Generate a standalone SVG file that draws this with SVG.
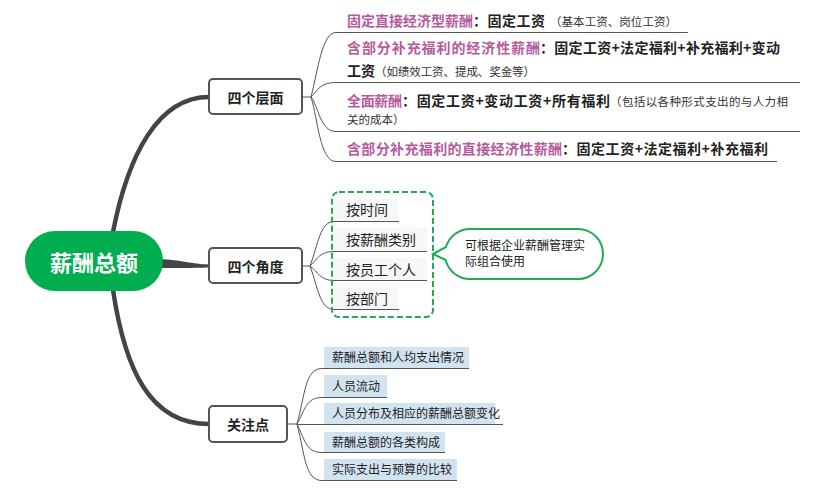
<svg xmlns="http://www.w3.org/2000/svg" width="825" height="496" viewBox="0 0 825 496">
<style>
text{font-family:"Noto Sans CJK SC","Noto Sans",sans-serif;}
.node{fill:#fff;stroke:#555;stroke-width:2;}
.nt{font-size:14px;font-weight:bold;fill:#222;text-anchor:middle;dominant-baseline:central;}
.thick{fill:none;stroke:#444;stroke-width:4.5;stroke-linecap:round;}
.thin{fill:none;stroke:#555;stroke-width:1;}
.pk{font-size:14px;font-weight:bold;fill:#b65aa0;}
.bk{font-size:14px;font-weight:bold;fill:#222;}
.sm{font-size:11.5px;fill:#333;}
.it{font-size:14px;fill:#222;}
.fi{font-size:12px;fill:#222;}
.fbg{fill:#d2e3f0;}
.abg{fill:#f6f8f8;}
</style>
<g id="connectors">
<path class="thick" d="M113,232 C128,155 158,97 209,97"/>
<path class="thick" d="M113,290 C125,370 150,424 209,424"/>
<path d="M158,259 C182,260 192,264 209,264.5 L209,267.5 C192,268 182,268 158,268 Z" fill="#444"/>
<path class="thin" d="M302,97 H311"/>
<path class="thin" d="M311,97 C318,70 322,32.5 336,32.5 H688"/>
<path class="thin" d="M311,97 C318,90 320,82.5 336,82.5 H800"/>
<path class="thin" d="M311,97 C318,105 320,131.5 336,131.5 H800"/>
<path class="thin" d="M311,97 C318,120 320,161.5 336,161.5 H777"/>
<path class="thin" d="M302,266 H310"/>
<path class="thin" d="M310,266 C318,245 320,221.5 334,221.5 H399"/>
<path class="thin" d="M310,266 C318,258 320,251.5 334,251.5 H427"/>
<path class="thin" d="M310,266 C318,272 320,280.5 334,280.5 H427"/>
<path class="thin" d="M310,266 C318,288 320,309.5 334,309.5 H399"/>
<path class="thin" d="M287,424 H297"/>
<path class="thin" d="M297,424 C305,395 305,368.5 322,368.5 H469"/>
<path class="thin" d="M297,424 C305,410 306,397.5 322,397.5 H387"/>
<path class="thin" d="M297,424.5 H503"/>
<path class="thin" d="M297,424 C305,440 306,452.5 322,452.5 H445"/>
<path class="thin" d="M297,424 C305,455 305,480.5 322,480.5 H457"/>
</g>
<g id="root">
<rect x="25" y="231" width="138" height="60" rx="30" fill="#00ad4f"/>
<text x="94" y="261" font-size="22" font-weight="bold" fill="#fff" text-anchor="middle" dominant-baseline="central">薪酬总额</text>
</g>
<g id="n-layers">
<rect class="node" x="209" y="79" width="93" height="35" rx="4"/>
<text class="nt" x="255.5" y="97">四个层面</text>
</g>
<g id="n-angles">
<rect class="node" x="209" y="248" width="93" height="35" rx="4"/>
<text class="nt" x="255.5" y="266">四个角度</text>
</g>
<g id="n-focus">
<rect class="node" x="209" y="406" width="78" height="36" rx="4"/>
<text class="nt" x="248" y="424">关注点</text>
</g>
<g id="l1">
<text class="pk" x="347" y="26" textLength="126" lengthAdjust="spacing">固定直接经济型薪酬</text>
<text class="bk" x="473" y="26" textLength="72" lengthAdjust="spacing">：固定工资</text>
<text class="sm" x="550" y="26" textLength="127" lengthAdjust="spacing">（基本工资、岗位工资）</text>
</g>
<g id="l2">
<text class="pk" x="347" y="53" textLength="193" lengthAdjust="spacing">含部分补充福利的经济性薪酬</text>
<text class="bk" x="540" y="53" textLength="240" lengthAdjust="spacing">：固定工资+法定福利+补充福利+变动</text>
<text class="bk" x="347" y="76">工资</text>
<text class="sm" x="375" y="76" textLength="160" lengthAdjust="spacing">（如绩效工资、提成、奖金等）</text>
</g>
<g id="l3">
<text class="pk" x="347" y="106" textLength="55" lengthAdjust="spacing">全面薪酬</text>
<text class="bk" x="402" y="106" textLength="208" lengthAdjust="spacing">：固定工资+变动工资+所有福利</text>
<text class="sm" x="610" y="106" textLength="178" lengthAdjust="spacing">（包括以各种形式支出的与人力相</text>
<text class="sm" x="347" y="124">关的成本）</text>
</g>
<g id="l4">
<text class="pk" x="347" y="154" textLength="215" lengthAdjust="spacing">含部分补充福利的直接经济性薪酬</text>
<text class="bk" x="562" y="154" textLength="206" lengthAdjust="spacing">：固定工资+法定福利+补充福利</text>
</g>
<g id="angles-box">
<rect x="332" y="192" width="101" height="125" rx="7" fill="none" stroke="#22aa55" stroke-width="2" stroke-dasharray="6,3"/>
</g>
<g id="a1">
<rect class="abg" x="334" y="199" width="65" height="22"/>
<text class="it" x="346" y="215">按时间</text>
</g>
<g id="a2">
<rect class="abg" x="334" y="228" width="93" height="23"/>
<text class="it" x="346" y="245">按薪酬类别</text>
</g>
<g id="a3">
<rect class="abg" x="334" y="258" width="93" height="22"/>
<text class="it" x="346" y="275">按员工个人</text>
</g>
<g id="a4">
<rect class="abg" x="334" y="287" width="65" height="22"/>
<text class="it" x="346" y="304">按部门</text>
</g>
<g id="note">
<path d="M470,229 H578 A25,25 0 0 1 578,279 H470 A25,25 0 0 1 445.7,260 L433,254 L446,247 A25,25 0 0 1 470,229 Z" fill="#fff" stroke="#22aa55" stroke-width="2"/>
<text class="fi" x="465" y="250">可根据企业薪酬管理实</text>
<text class="fi" x="465" y="266">际组合使用</text>
</g>
<g id="f1">
<rect class="fbg" x="324" y="347" width="145" height="21"/>
<text class="fi" x="332" y="362">薪酬总额和人均支出情况</text>
</g>
<g id="f2">
<rect class="fbg" x="324" y="375" width="63" height="22"/>
<text class="fi" x="332" y="391">人员流动</text>
</g>
<g id="f3">
<rect class="fbg" x="324" y="403" width="171" height="21"/>
<text class="fi" x="332" y="418">人员分布及相应的薪酬总额变化</text>
</g>
<g id="f4">
<rect class="fbg" x="324" y="432" width="121" height="20"/>
<text class="fi" x="332" y="446.5">薪酬总额的各类构成</text>
</g>
<g id="f5">
<rect class="fbg" x="324" y="459" width="133" height="21"/>
<text class="fi" x="332" y="474">实际支出与预算的比较</text>
</g>
</svg>
